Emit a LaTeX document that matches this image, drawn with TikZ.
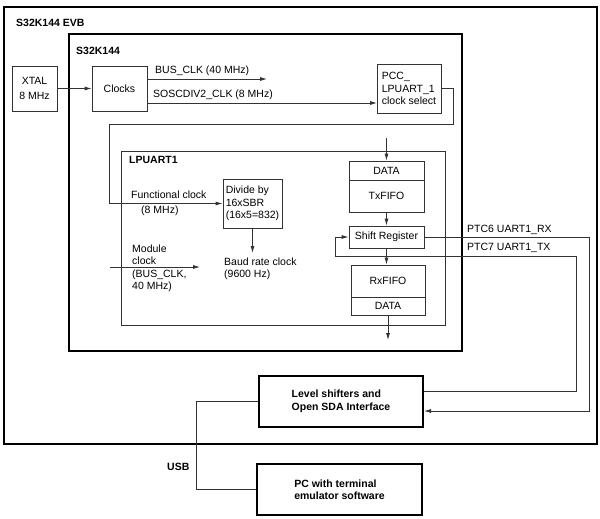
\documentclass[tikz,border=0pt]{standalone}
\usepackage{fontspec}
\setmainfont{Liberation Sans}
\usetikzlibrary{arrows.meta}

\newcommand{\dfont}{\fontsize{10.5}{12.5}\selectfont}
\tikzset{
  every node/.style={font=\dfont},
  frame/.style={draw, line width=2.4pt, inner sep=0pt},
  block/.style={draw=black!80, line width=0.8pt, inner sep=0pt},
  heavy/.style={draw, line width=2pt, inner sep=0pt, align=left, font=\dfont\bfseries},
  txt/.style={inner sep=0pt, anchor=base west},
  txtb/.style={txt, font=\dfont\bfseries},
  multi/.style={inner sep=0pt, anchor=north west, align=left},
  wire/.style={black!80, line width=0.8pt},
}

\begin{document}
\begin{tikzpicture}[x=1pt,y=-1pt,>={Latex[length=7pt,width=4pt]}]
\useasboundingbox (0,0) rectangle (600,519);
            % Frames
\node[frame, minimum width=593pt, minimum height=437pt] (evb)  at (300.5,225.5) {};
\node[frame, minimum width=393pt, minimum height=317pt] (mcu)  at (265.5,192.5) {};
\node[block, minimum width=324pt, minimum height=174pt] (uart) at (283,238)     {};
\node[txtb] (evbname)  at (16,27)  {S32K144 EVB};
\node[txtb] (mcuname)  at (76,55)  {S32K144};
\node[txtb] (uartname) at (129,163){LPUART1};
%Clock blocks
\node[block, minimum width=45pt, minimum height=45pt, align=center] (xtal)   at (34.5,88.5)  {XTAL\\[3pt]8 MHz};
\node[block, minimum width=55pt, minimum height=45pt]               (clocks) at (119.5,88.5) {Clocks};
\node[block, minimum width=64pt, minimum height=49pt, align=left]   (pcc)    at (409,88.5)   {PCC\_\\LPUART\_1\\clock select};
\node[block, minimum width=59pt, minimum height=49pt, align=left]   (divide) at (252.5,203.5){Divide by\\16xSBR\\(16x5=832)};
%FIFOs
\node[block, minimum width=75pt, minimum height=19pt] (txdata) at (386.5,170.5) {DATA};
\node[block, minimum width=75pt, minimum height=32pt] (txfifo) at (386.5,196)   {TxFIFO};
\node[block, minimum width=75pt, minimum height=22pt] (shift)  at (386.5,237)   {Shift Register};
\node[block, minimum width=74pt, minimum height=32pt] (rxfifo) at (388,281)     {RxFIFO};
\node[block, minimum width=74pt, minimum height=18pt] (rxdata) at (388,306)     {DATA};
%Board blocks
\node[heavy, minimum width=164pt, minimum height=51pt] (level) at (341,401.5)   {Level shifters and\\Open SDA Interface};
\node[heavy, minimum width=165pt, minimum height=51pt] (pc)    at (339.5,489.5) {PC with terminal\\emulator software};
%Signal names
\node[txt]   (busname)  at (155,74)    {BUS\_CLK (40 MHz)};
\node[txt]   (soscname) at (153,97)    {SOSCDIV2\_CLK (8 MHz)};
\node[txt]   (funcname) at (131,198.5) {Functional clock};
\node[txt]   (funcfreq) at (141,213)   {(8 MHz)};
\node[multi] (modname)  at (132,244.5) {Module\\clock\\(BUS\_CLK,\\40 MHz)};
\node[multi] (baudname) at (224,257.5) {Baud rate clock\\(9600 Hz)};
\node[txt]   (rxname)   at (467,232)   {PTC6 UART1\_RX};
\node[txt]   (txname)   at (467,250)   {PTC7 UART1\_TX};
\node[txtb]  (usbname)  at (167,470)   {USB};
%Wire ends
\coordinate (busend)   at (267,79);
\coordinate (soscend)  at (377,103);
\coordinate (pccturn)  at (453,124);
\coordinate (functurn) at (109,124);
\coordinate (baudtop)  at (252.5,253);
\coordinate (modin)    at (110,267);
\coordinate (modend)   at (200,267);
\coordinate (datain)   at (386.5,138);
\coordinate (dataout)  at (388,340);
\coordinate (rxturn)   at (589,411);
\coordinate (txturn)   at (576,391);
\coordinate (txloop)   at (335,256);
\coordinate (usbturn)  at (196,401.5);
%Connections
\draw[wire,->] (xtal) -- (clocks);
\draw[wire,->] (clocks.east |- busend) -- (busend);
\draw[wire,->] (clocks.east |- soscend) -- (soscend);
\draw[wire,->] (pcc.east) -| (pccturn) -- (functurn) |- (divide.west);
\draw[wire,->] (divide.south) -- (baudtop);
\draw[wire,->] (modin) -- (modend);
\draw[wire,->] (datain) -- (txdata.north);
\draw[wire,->] (txfifo.south) -- (shift.north);
\draw[wire,->] (shift.south) -- (shift.south |- rxfifo.north);
\draw[wire,->] (rxdata.south) -- (dataout);
\draw[wire,->] (shift.east) -| (rxturn) -- (level.east |- rxturn);%RX
\draw[wire,->] (level.east |- txturn) -- (txturn) |- (txloop) |- (shift.west);%TX
\draw[wire]    (level.west) -- (usbturn) |- (pc.west);%USB
\end{tikzpicture}
\end{document}
